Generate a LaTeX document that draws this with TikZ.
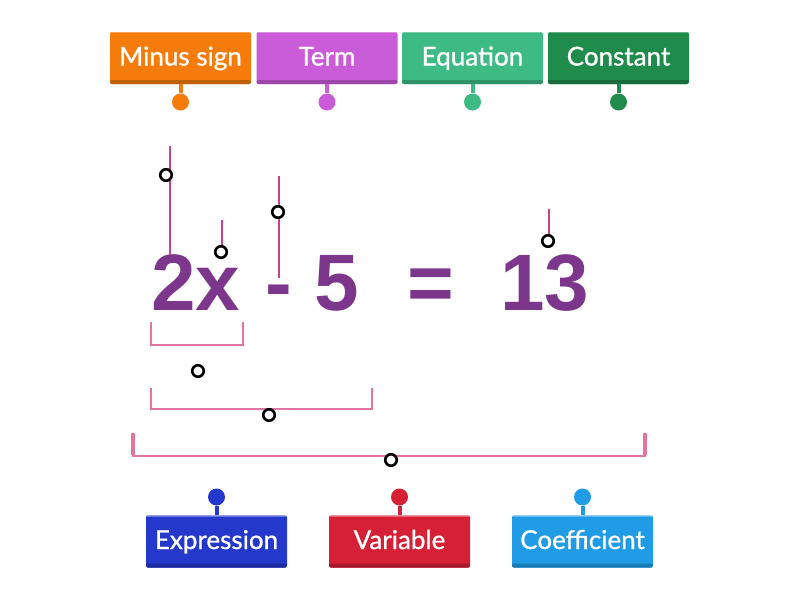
\documentclass[tikz,border=0pt]{standalone}
\usepackage{fontspec}
\setmainfont{Lato}
\newfontfamily\tagfont{Lato}[FakeBold=0.9]
\newfontfamily\eqfont{Liberation Sans}
\definecolor{tagOrange}{RGB}{245,124,10}
\definecolor{tagTerm}{RGB}{203,92,216}
\definecolor{tagEquation}{RGB}{62,187,133}
\definecolor{tagConstant}{RGB}{31,140,76}
\definecolor{tagExpression}{RGB}{36,56,204}
\definecolor{tagVariable}{RGB}{214,32,54}
\definecolor{tagCoefficient}{RGB}{32,156,230}
\definecolor{eqPurple}{RGB}{124,54,139}
\definecolor{leadPink}{RGB}{205,64,138}
\definecolor{bracePink}{RGB}{226,116,162}

\begin{document}
\begin{tikzpicture}[x=1pt,y=-1pt,
  tagbox/.style={fill=#1, rounded corners=2pt, minimum width=141pt, minimum height=52pt,
    inner sep=0pt, text=white, text height=15pt, text depth=0pt, font=\tagfont\fontsize{26}{26}\selectfont,
    path picture={\fill[#1!78!black] (path picture bounding box.south west) rectangle
      ([yshift=4pt]path picture bounding box.south east);
      \draw[#1!70!white, line width=2pt] (path picture bounding box.north west) --
      (path picture bounding box.north east);}},
  knob/.style={circle, fill=#1, minimum size=17pt, inner sep=0pt},
  stem/.style={draw=#1, line width=4pt},
  ring/.style={circle, draw=black, fill=white, line width=2.6pt, minimum size=11.5pt, inner sep=0pt},
  lead/.style={leadPink, line width=1.4pt},
  brace/.style={bracePink, line width=2pt},
  glyph/.style={eqPurple, anchor=base west, inner sep=0pt, font=\eqfont\bfseries\fontsize{80}{80}\selectfont}]
		\useasboundingbox (0,0) rectangle (800,600);
		% equation
		\node[glyph] (twox) at (151,310) {2x};
		\node[glyph] (minus) at (265,310) {-};
		\node[glyph] (five) at (314,310) {5};
		\node[glyph] (equals) at (407,310) {=};
		\node[glyph] (thirteen) at (500,310) {13};
		% leads and brackets
		\draw[lead] (170,146) -- (170,255);
		\draw[lead] (222,220) -- (222,250);
		\draw[lead] (279,176) -- (279,278);
		\draw[lead] (549,209) -- (549,240);
		\draw[brace] (151,322) -- (151,345) -- (243,345) -- (243,322);
		\draw[brace] (151,388) -- (151,409) -- (372,409) -- (372,388);
		\draw[brace] (133,433) -- (133,456) -- (645,456) -- (645,433);
		\draw[bracePink, line width=4pt] (133,433) -- (133,455) (645,433) -- (645,455);
		% rings
		\foreach \name/\x/\y in {rA/166/175, rB/221/252, rC/278/212, rD/548/241,
			rE/198/371, rF/269/415, rG/391/460} {
			\node[ring] (\name) at (\x,\y) {};
		}
		% top tags
		\foreach \name/\x/\col/\txt in {tMinus/180.5/tagOrange/Minus sign, tTerm/327/tagTerm/Term,
			tEquation/472.5/tagEquation/Equation, tConstant/618.5/tagConstant/Constant} {
			\node[tagbox=\col] (\name) at (\x,58) {\txt};
			\node[knob=\col] (\name dot) at (\x,102) {};
			\draw[stem=\col] (\name.south) -- (\name dot);
		}
		% bottom tags
		\foreach \name/\x/\col/\txt in {tExpression/216.5/tagExpression/Expression,
			tVariable/399.5/tagVariable/Variable, tCoefficient/582.5/tagCoefficient/Coefficient} {
			\node[tagbox=\col] (\name) at (\x,541.5) {\txt};
			\node[knob=\col] (\name dot) at (\x,497) {};
			\draw[stem=\col] (\name.north) -- (\name dot);
		}
	\end{tikzpicture}
\end{document}
